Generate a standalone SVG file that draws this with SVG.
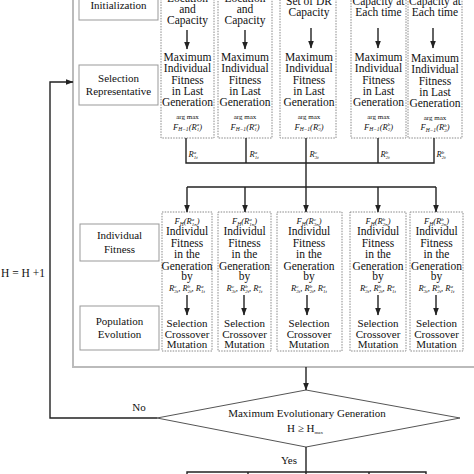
<svg xmlns="http://www.w3.org/2000/svg" width="474" height="474" viewBox="0 0 474 474">
<style>
.t{font-family:"Liberation Serif",serif;font-size:11.5px;text-anchor:middle;fill:#111}
.m{font-family:"Liberation Serif",serif;font-size:11px;text-anchor:middle;fill:#111}
.l{font-family:"Liberation Serif",serif;font-size:11px;text-anchor:middle;fill:#111}
.s{font-family:"Liberation Serif",serif;font-size:7px;text-anchor:middle;fill:#111}
.f{font-family:"Liberation Serif",serif;font-size:8.5px;font-style:italic;text-anchor:middle;fill:#111}
.lb{fill:#fff;stroke:#999;stroke-width:1}
.col{fill:#fff;stroke:#888;stroke-width:1;stroke-dasharray:1.5 1.2}
.c{stroke:#222;stroke-width:1.4;fill:none}
.ca{stroke:#222;stroke-width:1.4;fill:none;marker-end:url(#ah)}
</style>
<defs>
<marker id="ah" viewBox="0 0 8 6" refX="7.5" refY="3" markerWidth="8" markerHeight="6" markerUnits="userSpaceOnUse" orient="auto">
<path d="M0,0 L8,3 L0,6 z" fill="#222"/>
</marker>
</defs>
<rect width="474" height="474" fill="#fff"/>
<g id="frame"><rect x="73" y="-10" width="420" height="377" fill="#fff" stroke="#bbb" stroke-width="2"/></g>

<g id="label-init"><rect class="lb" x="79" y="-10" width="79" height="30"/><text class="l" x="118.5" y="9">Initialization</text></g>
<g id="label-select"><rect class="lb" x="79" y="65" width="79" height="40"/><text class="l" x="118.5" y="82">Selection</text><text class="l" x="118.5" y="95">Representative</text></g>
<g id="label-fitness"><rect class="lb" x="80" y="224" width="79" height="37"/><text class="l" x="119.5" y="239">Individual</text><text class="l" x="119.5" y="253">Fitness</text></g>
<g id="label-evolution"><rect class="lb" x="80" y="306" width="79" height="44"/><text class="l" x="119.5" y="325">Population</text><text class="l" x="119.5" y="338">Evolution</text></g>

<g id="top-col1"><rect class="col" x="161" y="-10" width="53" height="148"/>
<text class="t" x="187.5" y="2">Location</text><text class="t" x="187.5" y="13">and</text><text class="t" x="187.5" y="23.5">Capacity</text>
<text class="t" x="187.5" y="61">Maximum</text><text class="t" x="187.5" y="72">Individual</text><text class="t" x="187.5" y="83.5">Fitness</text><text class="t" x="187.5" y="94.5">in Last</text><text class="t" x="187.5" y="105.5">Generation</text>
<text class="s" x="187.5" y="119">arg max</text>
<text class="f" x="187.5" y="129.5">F<tspan font-size="5.5" dy="1.5">H−1</tspan><tspan dy="-1.5">(R</tspan><tspan font-size="5" dy="-3.5">a</tspan><tspan font-size="5" dx="-2.5" dy="5">1</tspan><tspan dy="-1.5">)</tspan></text></g>
<g id="top-col2"><rect class="col" x="218" y="-10" width="54" height="148"/>
<text class="t" x="245" y="2">Location</text><text class="t" x="245" y="13">and</text><text class="t" x="245" y="23.5">Capacity</text>
<text class="t" x="245" y="61">Maximum</text><text class="t" x="245" y="72">Individual</text><text class="t" x="245" y="83.5">Fitness</text><text class="t" x="245" y="94.5">in Last</text><text class="t" x="245" y="105.5">Generation</text>
<text class="s" x="245" y="119">arg max</text>
<text class="f" x="245" y="129.5">F<tspan font-size="5.5" dy="1.5">H−1</tspan><tspan dy="-1.5">(R</tspan><tspan font-size="5" dy="-3.5">a</tspan><tspan font-size="5" dx="-2.5" dy="5">1</tspan><tspan dy="-1.5">)</tspan></text></g>
<g id="top-col3"><rect class="col" x="280" y="-10" width="56" height="148"/>
<text class="t" x="309" y="5">Set of DR</text><text class="t" x="309" y="16">Capacity</text>
<text class="t" x="309" y="61">Maximum</text><text class="t" x="309" y="72">Individual</text><text class="t" x="309" y="83.5">Fitness</text><text class="t" x="309" y="94.5">in Last</text><text class="t" x="309" y="105.5">Generation</text>
<text class="s" x="309" y="119">arg max</text>
<text class="f" x="309" y="129.5">F<tspan font-size="5.5" dy="1.5">H−1</tspan><tspan dy="-1.5">(R</tspan><tspan font-size="5" dy="-3.5">c</tspan><tspan font-size="5" dx="-2.2" dy="5">3</tspan><tspan dy="-1.5">)</tspan></text></g>
<g id="top-col4"><rect class="col" x="351" y="-10" width="55" height="148"/>
<text class="t" x="378.5" y="5">Capacity at</text><text class="t" x="378.5" y="16">Each time</text>
<text class="t" x="378.5" y="61">Maximum</text><text class="t" x="378.5" y="72">Individual</text><text class="t" x="378.5" y="83.5">Fitness</text><text class="t" x="378.5" y="94.5">in Last</text><text class="t" x="378.5" y="105.5">Generation</text>
<text class="s" x="378.5" y="119">arg max</text>
<text class="f" x="378.5" y="129.5">F<tspan font-size="5.5" dy="1.5">H−1</tspan><tspan dy="-1.5">(R</tspan><tspan font-size="5" dy="-3.5">b</tspan><tspan font-size="5" dx="-2.5" dy="5">2</tspan><tspan dy="-1.5">)</tspan></text></g>
<g id="top-col5"><rect class="col" x="408" y="-10" width="54" height="148"/>
<text class="t" x="435" y="5">Capacity at</text><text class="t" x="435" y="16">Each time</text>
<text class="t" x="435" y="62">Maximum</text><text class="t" x="435" y="73">Individual</text><text class="t" x="435" y="84.5">Fitness</text><text class="t" x="435" y="95.5">in Last</text><text class="t" x="435" y="106.5">Generation</text>
<text class="s" x="435" y="120">arg max</text>
<text class="f" x="435" y="130">F<tspan font-size="5.5" dy="1.5">H−1</tspan><tspan dy="-1.5">(R</tspan><tspan font-size="5" dy="-3.5">b</tspan><tspan font-size="5" dx="-2.5" dy="5">2</tspan><tspan dy="-1.5">)</tspan></text></g>

<g id="bot-col1"><rect class="col" x="162" y="212" width="50" height="139"/>
<text class="f" x="187" y="224">F<tspan font-size="5.5" dy="1.5">H</tspan><tspan dy="-1.5">(R</tspan><tspan font-size="5" dy="-3.5">a</tspan><tspan font-size="5" dx="-2.5" dy="5">1n</tspan><tspan dy="-1.5">)</tspan></text>
<text class="t" x="187" y="235">Individul</text><text class="t" x="187" y="246.5">Fitness</text><text class="t" x="187" y="257.5">in the</text><text class="t" x="187" y="269.5">Generation</text><text class="t" x="187" y="280">by</text>
<text class="f" x="187" y="291">R<tspan font-size="5" dy="-3.5">c</tspan><tspan font-size="5" dx="-2.2" dy="5">3t</tspan><tspan dy="-1.5">, R</tspan><tspan font-size="5" dy="-3.5">b</tspan><tspan font-size="5" dx="-2.5" dy="5">2t</tspan><tspan dy="-1.5">, R</tspan><tspan font-size="5" dy="-3.5">a</tspan><tspan font-size="5" dx="-2.5" dy="5">1t</tspan></text>
<text class="m" x="187" y="327">Selection</text><text class="m" x="187" y="337.5">Crossover</text><text class="m" x="187" y="348">Mutation</text></g>
<g id="bot-col2"><rect class="col" x="218" y="212" width="53" height="139"/>
<text class="f" x="244.5" y="224">F<tspan font-size="5.5" dy="1.5">H</tspan><tspan dy="-1.5">(R</tspan><tspan font-size="5" dy="-3.5">a</tspan><tspan font-size="5" dx="-2.5" dy="5">1n</tspan><tspan dy="-1.5">)</tspan></text>
<text class="t" x="244.5" y="235">Individul</text><text class="t" x="244.5" y="246.5">Fitness</text><text class="t" x="244.5" y="257.5">in the</text><text class="t" x="244.5" y="269.5">Generation</text><text class="t" x="244.5" y="280">by</text>
<text class="f" x="244.5" y="291">R<tspan font-size="5" dy="-3.5">c</tspan><tspan font-size="5" dx="-2.2" dy="5">3t</tspan><tspan dy="-1.5">, R</tspan><tspan font-size="5" dy="-3.5">b</tspan><tspan font-size="5" dx="-2.5" dy="5">2t</tspan><tspan dy="-1.5">, R</tspan><tspan font-size="5" dy="-3.5">a</tspan><tspan font-size="5" dx="-2.5" dy="5">1t</tspan></text>
<text class="m" x="244.5" y="327">Selection</text><text class="m" x="244.5" y="337.5">Crossover</text><text class="m" x="244.5" y="348">Mutation</text></g>
<g id="bot-col3"><rect class="col" x="277" y="212" width="65" height="139"/>
<text class="f" x="309" y="224">F<tspan font-size="5.5" dy="1.5">H</tspan><tspan dy="-1.5">(R</tspan><tspan font-size="5" dy="-3.5">c</tspan><tspan font-size="5" dx="-2.2" dy="5">3n</tspan><tspan dy="-1.5">)</tspan></text>
<text class="t" x="309" y="235">Individul</text><text class="t" x="309" y="246.5">Fitness</text><text class="t" x="309" y="257.5">in the</text><text class="t" x="309" y="269.5">Generation</text><text class="t" x="309" y="280">by</text>
<text class="f" x="309" y="291">R<tspan font-size="5" dy="-3.5">c</tspan><tspan font-size="5" dx="-2.2" dy="5">3t</tspan><tspan dy="-1.5">, R</tspan><tspan font-size="5" dy="-3.5">b</tspan><tspan font-size="5" dx="-2.5" dy="5">2t</tspan><tspan dy="-1.5">, R</tspan><tspan font-size="5" dy="-3.5">a</tspan><tspan font-size="5" dx="-2.5" dy="5">1t</tspan></text>
<text class="m" x="309" y="327">Selection</text><text class="m" x="309" y="337.5">Crossover</text><text class="m" x="309" y="348">Mutation</text></g>
<g id="bot-col4"><rect class="col" x="350" y="212" width="56" height="139"/>
<text class="f" x="378" y="224">F<tspan font-size="5.5" dy="1.5">H</tspan><tspan dy="-1.5">(R</tspan><tspan font-size="5" dy="-3.5">b</tspan><tspan font-size="5" dx="-2.5" dy="5">2n</tspan><tspan dy="-1.5">)</tspan></text>
<text class="t" x="378" y="235">Individul</text><text class="t" x="378" y="246.5">Fitness</text><text class="t" x="378" y="257.5">in the</text><text class="t" x="378" y="269.5">Generation</text><text class="t" x="378" y="280">by</text>
<text class="f" x="378" y="291">R<tspan font-size="5" dy="-3.5">c</tspan><tspan font-size="5" dx="-2.2" dy="5">3t</tspan><tspan dy="-1.5">, R</tspan><tspan font-size="5" dy="-3.5">b</tspan><tspan font-size="5" dx="-2.5" dy="5">2t</tspan><tspan dy="-1.5">, R</tspan><tspan font-size="5" dy="-3.5">a</tspan><tspan font-size="5" dx="-2.5" dy="5">1t</tspan></text>
<text class="m" x="378" y="327">Selection</text><text class="m" x="378" y="337.5">Crossover</text><text class="m" x="378" y="348">Mutation</text></g>
<g id="bot-col5"><rect class="col" x="410" y="212" width="53" height="139"/>
<text class="f" x="436.5" y="224">F<tspan font-size="5.5" dy="1.5">H</tspan><tspan dy="-1.5">(R</tspan><tspan font-size="5" dy="-3.5">b</tspan><tspan font-size="5" dx="-2.5" dy="5">2n</tspan><tspan dy="-1.5">)</tspan></text>
<text class="t" x="436.5" y="235">Individul</text><text class="t" x="436.5" y="246.5">Fitness</text><text class="t" x="436.5" y="257.5">in the</text><text class="t" x="436.5" y="269.5">Generation</text><text class="t" x="436.5" y="280">by</text>
<text class="f" x="436.5" y="291">R<tspan font-size="5" dy="-3.5">c</tspan><tspan font-size="5" dx="-2.2" dy="5">3t</tspan><tspan dy="-1.5">, R</tspan><tspan font-size="5" dy="-3.5">b</tspan><tspan font-size="5" dx="-2.5" dy="5">2t</tspan><tspan dy="-1.5">, R</tspan><tspan font-size="5" dy="-3.5">a</tspan><tspan font-size="5" dx="-2.5" dy="5">1t</tspan></text>
<text class="m" x="436.5" y="327">Selection</text><text class="m" x="436.5" y="337.5">Crossover</text><text class="m" x="436.5" y="348">Mutation</text></g>

<g id="decision"><polygon points="157,418 306,390 460,418 306,447" fill="#fff" stroke="#555" stroke-width="1"/>
<text class="l" x="307" y="417">Maximum Evolutionary Generation</text>
<text class="l" x="305" y="432">H ≥ H<tspan font-size="5" dy="2">max</tspan></text></g>

<g id="connectors">
<line class="ca" x1="187" y1="30" x2="187" y2="49"/>
<line class="ca" x1="245" y1="30" x2="245" y2="49"/>
<line class="ca" x1="311" y1="28" x2="311" y2="48"/>
<line class="ca" x1="378" y1="28" x2="378" y2="48"/>
<line class="ca" x1="433" y1="28" x2="433" y2="48"/>
<polyline class="c" points="186,138 186,163 434,163 434,138"/>
<line class="c" x1="246" y1="138" x2="246" y2="163"/>
<line class="c" x1="306" y1="138" x2="306" y2="187"/>
<line class="c" x1="378" y1="138" x2="378" y2="163"/>
<line class="c" x1="187" y1="187" x2="436" y2="187"/>
<line class="ca" x1="187" y1="187" x2="187" y2="212"/>
<line class="ca" x1="245" y1="187" x2="245" y2="212"/>
<line class="ca" x1="306" y1="187" x2="306" y2="212"/>
<line class="ca" x1="378" y1="187" x2="378" y2="212"/>
<line class="ca" x1="436" y1="187" x2="436" y2="212"/>
<line class="ca" x1="187" y1="295" x2="187" y2="315"/>
<line class="ca" x1="244" y1="295" x2="244" y2="315"/>
<line class="ca" x1="307" y1="295" x2="307" y2="315"/>
<line class="ca" x1="378" y1="295" x2="378" y2="315"/>
<line class="ca" x1="436" y1="295" x2="436" y2="315"/>
<line class="ca" x1="306" y1="367" x2="306" y2="390"/>
<polyline class="ca" points="157,418 50,418 50,82 73,82"/>
<line class="c" x1="306" y1="447" x2="306" y2="480"/>
<polyline class="c" points="187,480 187,472 426,472 426,480"/>
<line class="c" x1="248" y1="472" x2="248" y2="480"/>
<line class="c" x1="369" y1="472" x2="369" y2="480"/>
<text class="f" x="193" y="157">R<tspan font-size="5" dy="-3.5">a</tspan><tspan font-size="5" dx="-2.5" dy="5">1t</tspan></text>
<text class="f" x="254" y="157">R<tspan font-size="5" dy="-3.5">a</tspan><tspan font-size="5" dx="-2.5" dy="5">1t</tspan></text>
<text class="f" x="314" y="157">R<tspan font-size="5" dy="-3.5">c</tspan><tspan font-size="5" dx="-2.2" dy="5">3t</tspan></text>
<text class="f" x="385" y="157">R<tspan font-size="5" dy="-3.5">b</tspan><tspan font-size="5" dx="-2.5" dy="5">2t</tspan></text>
<text class="f" x="441" y="157">R<tspan font-size="5" dy="-3.5">b</tspan><tspan font-size="5" dx="-2.5" dy="5">2t</tspan></text>
<text class="l" x="139" y="411">No</text>
<text class="l" x="289" y="464">Yes</text>
<text class="t" x="45" y="277" style="text-anchor:end">H = H +1</text>
</g>
</svg>
